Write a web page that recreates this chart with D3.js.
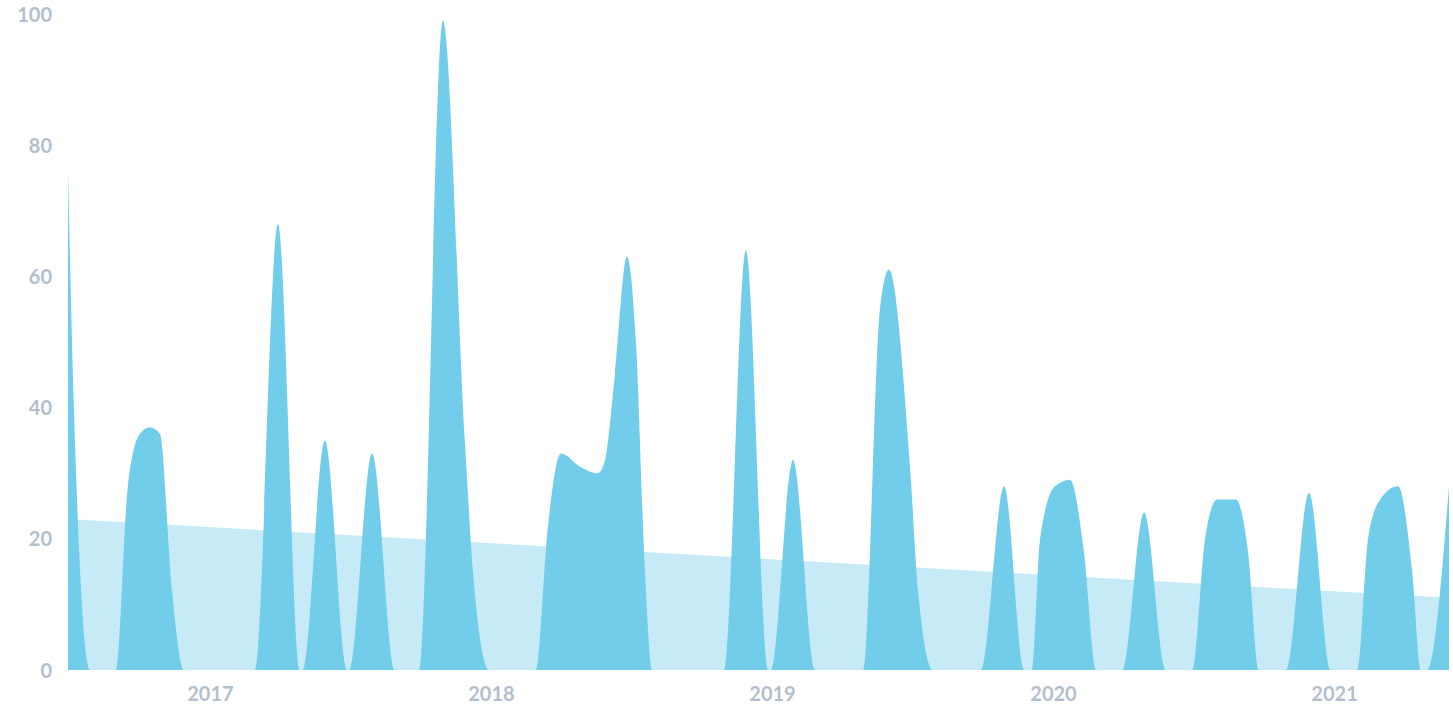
<!DOCTYPE html>
<html><head><meta charset="utf-8">
<script src="https://cdn.jsdelivr.net/npm/d3@7"></script>
<style>body{margin:0;background:#fff}svg{display:block}</style>
</head><body><svg id="c" width="1453" height="726"></svg>
<script>
const years = [2016.495,2016.516,2016.573,2016.665,2016.708,2016.751,2016.786,2016.822,2016.865,2016.907,
2017.160,2017.242,2017.320,2017.331,2017.409,2017.488,2017.495,2017.577,2017.658,
2017.744,2017.829,2017.907,2017.936,2017.993,
2018.160,2018.203,2018.249,2018.317,2018.381,2018.406,2018.441,2018.484,2018.516,2018.548,2018.573,
2018.829,2018.907,2018.986,2018.996,2019.075,2019.153,
2019.324,2019.384,2019.416,2019.491,2019.520,2019.573,
2019.744,2019.826,2019.897,2019.925,2019.954,2020.007,2020.060,2020.110,2020.153,
2020.246,2020.324,2020.402,2020.495,2020.541,2020.584,2020.651,2020.694,2020.733,
2020.829,2020.911,2020.989,2021.082,2021.121,2021.164,2021.228,2021.278,2021.310,2021.331,2021.409];
const values = [76,40,0,0,28,36,37,36,12,0,
0,68,0,0,35,0,0,33,0,
0,99,35,15,0,
0,22,33,31,30,32,45,63,50,15,0,
0,64,0,0,32,0,
0,55,61,31,12,0,
0,28,0,0,20,28,29,18,0,
0,24,0,0,20,26,26,18,0,
0,27,0,0,20,26,28,15,0,0,28];
const trendYears = [2016.495,2021.409];
const trendValues = [23,11];
const yTicks = [0,20,40,60,80,100];
const xTicks = [2017,2018,2019,2020,2021];

const svg = d3.select("#c");
const x = d3.scaleLinear().domain([2016.495,2021.409]).range([68,1449]);
const y = d3.scaleLinear().domain([0,100]).range([670,14]);

svg.append("path").datum(trendYears.map((t,i)=>[t,trendValues[i]]))
  .attr("fill","#c6ebf7")
  .attr("d",d3.area().x(d=>x(d[0])).y0(y(0)).y1(d=>y(d[1])));

svg.append("path").datum(years.map((t,i)=>[t,values[i]]))
  .attr("fill","#72cdea")
  .attr("d",d3.area().curve(d3.curveMonotoneX).x(d=>x(d[0])).y0(y(0)).y1(d=>y(d[1])));

const font = "Lato, 'Open Sans', sans-serif";
const ya = svg.append("g").attr("transform","translate(52,0)")
  .call(d3.axisLeft(y).tickValues(yTicks).tickSize(0).tickPadding(0));
const xa = svg.append("g").attr("transform","translate(0,683)")
  .call(d3.axisBottom(x).tickValues(xTicks).tickFormat(d3.format("d")).tickSize(0).tickPadding(4));
[ya,xa].forEach(a=>{a.select(".domain").remove();
  a.selectAll("text").attr("fill","#b3bfcc").style("font-family",font).style("font-size","20px").style("font-weight","bold");});
ya.selectAll("text").attr("dy","0.35em");
</script></body></html>
